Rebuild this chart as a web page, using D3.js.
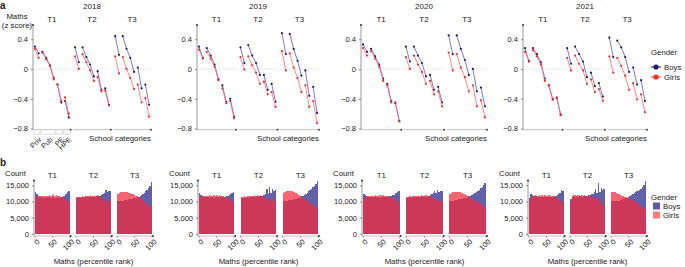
<!DOCTYPE html>
<html>
<head>
<meta charset="utf-8">
<script src="https://cdn.jsdelivr.net/npm/d3@7"></script>
<style>
  body { margin: 0; background: #fff; }
  text { font-family: "Liberation Sans", Arial, Helvetica, sans-serif; fill: #222; }
</style>
</head>
<body>
<svg id="chart" width="685" height="267"></svg>
<script>
// ---------- data ----------
const years = ['2018', '2019', '2020', '2021'];
const terms = ['T1', 'T2', 'T3'];
const schoolCats = ['Priv', 'Pub', 'PE', 'HPE'];
const catPositions = [[0, 1], [2, 3, 4, 5], [6, 7], [8, 9]];
const yTicksA = [0.4, 0, -0.4, -0.8];
const yTicksB = [0, 5000, 10000, 15000];
const xTicksB = [0, 50, 100];

// maths z score, [term][school category][level]
const boysZ2018 = [
  [[0.30, 0.21], [0.23, 0.15, 0.05, -0.12], [-0.21, -0.45], [-0.43, -0.65]],
  [[0.29, 0.09], [0.29, 0.16, 0.06, -0.10], [-0.03, -0.28], [-0.26, -0.48]],
  [[0.44, 0.19], [0.44, 0.27, 0.15, -0.04], [0.02, -0.26], [-0.21, -0.48]]
];
const girlsZ2018 = [
  [[0.27, 0.15], [0.22, 0.13, 0.04, -0.14], [-0.21, -0.43], [-0.38, -0.60]],
  [[0.17, 0.00], [0.20, 0.09, -0.02, -0.16], [-0.11, -0.30], [-0.29, -0.49]],
  [[0.17, -0.06], [0.16, 0.00, -0.12, -0.27], [-0.21, -0.45], [-0.39, -0.64]]
];
const boysZ2019 = [
  [[0.30, 0.15], [0.28, 0.18, 0.06, -0.14], [-0.22, -0.44], [-0.40, -0.64]],
  [[0.29, 0.08], [0.32, 0.18, 0.08, -0.08], [-0.08, -0.28], [-0.20, -0.44]],
  [[0.48, 0.20], [0.47, 0.27, 0.11, -0.09], [-0.02, -0.36], [-0.24, -0.59]]
];
const girlsZ2019 = [
  [[0.26, 0.14], [0.23, 0.14, 0.03, -0.15], [-0.26, -0.46], [-0.43, -0.66]],
  [[0.16, -0.01], [0.17, 0.05, -0.05, -0.20], [-0.17, -0.34], [-0.31, -0.51]],
  [[0.24, -0.02], [0.21, 0.02, -0.12, -0.31], [-0.22, -0.51], [-0.43, -0.73]]
];
const boysZ2020 = [
  [[0.33, 0.23], [0.27, 0.17, 0.06, -0.13], [-0.20, -0.43], [-0.45, -0.70]],
  [[0.30, 0.10], [0.30, 0.18, 0.08, -0.10], [-0.08, -0.28], [-0.24, -0.45]],
  [[0.45, 0.20], [0.45, 0.27, 0.12, -0.08], [0.00, -0.30], [-0.25, -0.50]]
];
const girlsZ2020 = [
  [[0.28, 0.18], [0.24, 0.14, 0.03, -0.16], [-0.22, -0.45], [-0.46, -0.70]],
  [[0.16, 0.00], [0.18, 0.06, -0.04, -0.20], [-0.16, -0.34], [-0.30, -0.50]],
  [[0.22, -0.02], [0.20, 0.02, -0.11, -0.30], [-0.22, -0.50], [-0.42, -0.65]]
];
const boysZ2021 = [
  [[0.28, 0.10], [0.28, 0.20, 0.09, -0.13], [-0.22, -0.41], [-0.39, -0.61]],
  [[0.28, 0.07], [0.30, 0.20, 0.10, -0.11], [-0.05, -0.23], [-0.19, -0.37]],
  [[0.42, 0.16], [0.38, 0.29, 0.16, -0.04], [0.02, -0.21], [-0.15, -0.43]]
];
const girlsZ2021 = [
  [[0.23, 0.11], [0.25, 0.17, 0.06, -0.16], [-0.22, -0.40], [-0.38, -0.62]],
  [[0.15, -0.02], [0.18, 0.07, -0.02, -0.20], [-0.14, -0.31], [-0.27, -0.43]],
  [[0.17, -0.05], [0.15, 0.04, -0.09, -0.28], [-0.19, -0.41], [-0.34, -0.58]]
];

// counts (thousands) per 4-point percentile bin, [term][bin]
const boysCount2018 = [
  [12.8, 12.2, 11.6, 11.4, 11.3, 11.4, 11.2, 11.3, 11.2, 11.3, 11.4, 11.2, 11.3, 11.3, 11.2, 11.1, 11.3, 11.2, 11.4, 11.5, 11.6, 11.8, 12.2, 12.8, 13.2],
  [11.2, 11.2, 11.3, 11.2, 11.3, 11.3, 11.4, 11.3, 11.4, 11.4, 11.5, 11.5, 11.4, 11.5, 11.6, 11.7, 11.6, 11.8, 11.9, 12.2, 12.6, 13.7, 12.8, 13.3, 13.4],
  [10.0, 10.0, 10.1, 10.2, 10.3, 10.4, 10.5, 10.6, 10.7, 10.8, 10.9, 11.0, 11.1, 11.2, 11.3, 11.5, 11.7, 12.0, 12.3, 12.7, 13.1, 13.6, 14.1, 14.8, 16.0]
];
const girlsCount2018 = [
  [11.4, 11.3, 11.5, 11.6, 11.7, 11.6, 11.7, 11.8, 11.7, 11.8, 12.1, 11.8, 11.9, 12.3, 11.7, 12.0, 11.8, 11.7, 11.4, 11.5, 11.2, 11.0, 10.6, 10.3, 9.9],
  [11.3, 11.5, 11.4, 11.5, 11.6, 11.5, 11.6, 11.7, 11.6, 11.8, 11.9, 11.7, 11.8, 11.7, 11.8, 12.0, 11.6, 11.5, 11.3, 11.0, 10.6, 9.6, 11.2, 10.6, 10.3],
  [12.3, 12.6, 12.8, 12.9, 13.0, 13.0, 12.9, 12.8, 12.7, 12.6, 12.4, 12.2, 12.0, 11.8, 11.6, 11.4, 11.1, 10.8, 10.4, 10.0, 9.6, 9.2, 8.9, 8.6, 8.3]
];
const boysCount2019 = [
  [12.6, 12.0, 11.6, 11.4, 11.3, 11.3, 11.4, 11.2, 11.3, 11.4, 11.2, 11.3, 11.4, 11.3, 11.2, 11.3, 11.4, 11.3, 11.5, 11.6, 11.8, 12.0, 12.4, 12.7, 13.0],
  [11.0, 11.1, 11.2, 11.2, 11.3, 11.2, 11.4, 11.3, 11.4, 11.5, 11.4, 11.6, 11.5, 11.7, 11.6, 11.8, 12.0, 12.4, 13.8, 12.2, 14.6, 12.6, 14.0, 13.2, 13.6],
  [10.1, 10.1, 10.2, 10.3, 10.4, 10.5, 10.6, 10.7, 10.8, 10.9, 11.0, 11.2, 11.4, 11.6, 11.8, 12.1, 12.4, 12.7, 13.1, 13.5, 13.9, 14.4, 14.9, 15.5, 16.4]
];
const girlsCount2019 = [
  [11.2, 11.4, 11.6, 11.7, 11.6, 11.8, 11.7, 11.9, 11.8, 11.7, 12.0, 11.8, 11.9, 11.8, 12.1, 11.7, 11.8, 11.6, 11.5, 11.3, 11.1, 10.8, 10.5, 10.2, 9.8],
  [11.3, 11.5, 11.6, 11.5, 11.7, 11.6, 11.8, 11.7, 11.8, 11.9, 11.8, 11.7, 11.9, 11.8, 11.7, 11.6, 11.4, 11.2, 10.6, 11.0, 9.8, 10.8, 10.0, 10.4, 10.2],
  [12.6, 12.9, 13.1, 13.2, 13.3, 13.2, 13.1, 13.0, 12.8, 12.6, 12.4, 12.1, 11.8, 11.5, 11.2, 10.9, 10.6, 10.2, 9.8, 9.5, 9.1, 8.8, 8.5, 8.2, 7.9]
];
const boysCount2020 = [
  [12.4, 11.9, 11.6, 11.5, 11.4, 11.3, 11.4, 11.3, 11.3, 11.4, 11.3, 11.2, 11.4, 11.3, 11.3, 11.4, 11.3, 11.4, 11.6, 11.7, 11.9, 12.1, 12.5, 12.9, 13.4],
  [11.2, 11.2, 11.3, 11.3, 11.4, 11.3, 11.4, 11.4, 11.5, 11.5, 11.4, 11.6, 11.6, 11.5, 11.7, 11.8, 11.9, 12.2, 12.6, 13.2, 12.5, 13.6, 12.8, 13.4, 13.2],
  [10.2, 10.3, 10.3, 10.4, 10.5, 10.6, 10.7, 10.8, 10.9, 11.0, 11.1, 11.2, 11.4, 11.6, 11.8, 12.0, 12.3, 12.6, 12.9, 13.3, 13.7, 14.1, 14.5, 15.0, 15.6]
];
const girlsCount2020 = [
  [11.1, 11.3, 11.5, 11.6, 11.7, 11.6, 11.8, 11.7, 11.9, 11.8, 11.7, 12.0, 11.8, 11.9, 11.7, 11.8, 11.7, 11.6, 11.4, 11.2, 11.0, 10.7, 10.4, 10.0, 9.6],
  [11.4, 11.5, 11.6, 11.5, 11.7, 11.7, 11.6, 11.8, 11.7, 11.8, 11.9, 11.7, 11.8, 11.9, 11.7, 11.6, 11.5, 11.3, 11.0, 10.4, 10.9, 9.8, 10.6, 10.0, 10.2],
  [12.4, 12.7, 12.9, 13.0, 13.0, 13.0, 12.9, 12.8, 12.6, 12.4, 12.2, 12.0, 11.8, 11.5, 11.2, 10.9, 10.6, 10.3, 10.0, 9.7, 9.4, 9.1, 8.8, 8.5, 8.2]
];
const boysCount2021 = [
  [11.0, 12.2, 12.0, 11.8, 11.6, 11.6, 11.5, 11.4, 11.5, 11.3, 11.4, 11.4, 11.3, 11.5, 11.4, 11.3, 11.4, 11.5, 11.6, 11.7, 11.9, 12.2, 12.6, 13.6, 13.4],
  [10.9, 11.4, 11.6, 11.5, 11.6, 11.5, 11.7, 11.6, 11.5, 11.7, 11.6, 11.7, 11.8, 11.9, 12.0, 12.4, 12.2, 13.0, 13.8, 12.6, 15.6, 13.0, 14.2, 13.6, 13.8],
  [10.0, 10.0, 10.1, 10.1, 10.2, 10.3, 10.4, 10.5, 10.7, 10.9, 11.0, 11.2, 11.4, 11.6, 11.9, 12.2, 12.5, 12.8, 13.1, 13.4, 13.7, 14.0, 14.4, 15.0, 16.3]
];
const girlsCount2021 = [
  [10.0, 11.2, 11.6, 11.8, 11.9, 11.8, 11.7, 11.9, 11.8, 11.9, 11.8, 12.0, 11.7, 11.8, 11.9, 11.8, 11.6, 11.7, 11.5, 11.3, 11.1, 10.9, 10.5, 9.8, 9.6],
  [10.0, 11.6, 11.9, 12.0, 11.8, 12.0, 11.9, 11.7, 12.0, 11.8, 11.9, 11.7, 11.8, 11.6, 11.7, 11.5, 11.3, 11.0, 10.4, 11.2, 9.4, 10.8, 9.6, 9.0, 8.8],
  [12.8, 12.9, 12.8, 12.6, 12.4, 12.2, 12.0, 11.8, 11.6, 11.4, 11.3, 11.2, 11.1, 10.9, 10.7, 10.4, 10.1, 9.8, 9.5, 9.2, 8.9, 8.6, 8.3, 8.0, 7.6]
];

const boysZ = [boysZ2018, boysZ2019, boysZ2020, boysZ2021];
const girlsZ = [girlsZ2018, girlsZ2019, girlsZ2020, girlsZ2021];
const boysCount = [boysCount2018, boysCount2019, boysCount2020, boysCount2021];
const girlsCount = [girlsCount2018, girlsCount2019, girlsCount2020, girlsCount2021];

// ---------- layout ----------
const svg = d3.select('#chart');
const panelLeftA = [33, 197, 361, 523];
const panelRightA = [151, 319, 487, 647];
const panelLeftB = [34, 198, 362, 528];
const panelRightB = [153, 319, 487, 647];
const gapA = 2.5, gapB = 4.5;

const boysLine = '#5a5ab4', boysPoint = '#1b1b6e';
const girlsLine = '#ff6a6a', girlsPoint = '#f02c2c';
const boysFill = '#4b4b9e', girlsFill = '#f5283c';

const fmtMinus = s => s.replace('-', '\u2212');

const yA = d3.scaleLinear().domain([-0.815, 0.59]).range([129.7, 25]);
const yB = d3.scaleLinear().domain([-700, 16500]).range([236, 180.5]);

svg.append('text').attr('x', 0).attr('y', 8.5).attr('font-size', '10px')
  .attr('font-weight', 'bold').text('a');
svg.append('text').attr('x', 0).attr('y', 166).attr('font-size', '10px')
  .attr('font-weight', 'bold').text('b');

// y-axis title panel a
svg.append('text').attr('x', 17).attr('y', 18.5).attr('text-anchor', 'middle')
  .attr('font-size', '7.8px').text('Maths');
svg.append('text').attr('x', 17).attr('y', 28).attr('text-anchor', 'middle')
  .attr('font-size', '7.8px').text('(z score)');

years.forEach((yr, yi) => {
  // ===== panel a =====
  const L = panelLeftA[yi], R = panelRightA[yi];
  const fw = (R - L - 2 * gapA) / 3;
  const g = svg.append('g');

  g.append('text').attr('x', (L + R) / 2).attr('y', 9).attr('text-anchor', 'middle')
    .attr('font-size', '8px').text(yr);

  // y axis
  const yAxis = g.append('g').attr('transform', `translate(${L},0)`)
    .call(d3.axisLeft(yA).tickValues(yTicksA).tickSize(2)
      .tickFormat(d => d === 0 ? '0' : fmtMinus(d3.format('.1f')(d))));
  yAxis.select('.domain').remove();
  yAxis.selectAll('line').attr('stroke', '#444').attr('stroke-width', 0.6);
  yAxis.selectAll('text').attr('font-size', '7.5px').attr('fill', '#222')
    .attr('font-family', '"Liberation Sans", Arial, sans-serif');
  g.append('line').attr('x1', L).attr('x2', L).attr('y1', 25).attr('y2', 129.7)
    .attr('stroke', '#555').attr('stroke-width', 0.6);
  g.append('circle').attr('cx', L).attr('cy', 25).attr('r', 0.9).attr('fill', '#222');

  terms.forEach((t, ti) => {
    const x0 = L + ti * (fw + gapA), x1 = x0 + fw;
    const x = d3.scalePoint().domain(d3.range(10)).range([x0, x1]).padding(0.5);

    g.append('text').attr('x', (x0 + x1) / 2).attr('y', 22).attr('text-anchor', 'middle')
      .attr('font-size', '8px').text(t);

    g.append('line').attr('x1', x0).attr('x2', x1).attr('y1', yA(0)).attr('y2', yA(0))
      .attr('stroke', '#e6e6e6').attr('stroke-width', 0.8);
    g.append('line').attr('x1', x0).attr('x2', x1).attr('y1', 129.7).attr('y2', 129.7)
      .attr('stroke', '#9a9a9a').attr('stroke-width', 0.6);
    g.append('circle').attr('cx', x1).attr('cy', 129.7).attr('r', 0.9).attr('fill', '#222');

    const line = d3.line().x(d => x(d[0])).y(d => yA(d[1]));
    [[boysZ[yi][ti], boysLine, boysPoint], [girlsZ[yi][ti], girlsLine, girlsPoint]]
      .forEach(([series, lc, pc]) => {
        series.forEach((vals, ci) => {
          const pts = vals.map((v, k) => [catPositions[ci][k], v]);
          g.append('path').attr('d', line(pts)).attr('fill', 'none')
            .attr('stroke', lc).attr('stroke-width', 0.8);
          g.selectAll(null).data(pts).enter().append('circle')
            .attr('cx', d => x(d[0])).attr('cy', d => yA(d[1])).attr('r', 1.1)
            .attr('fill', pc);
        });
      });

    // school category brackets, first panel first term only
    if (yi === 0 && ti === 0) {
      catPositions.forEach((pos, ci) => {
        const s = x.step();
        const a0 = x(pos[0]) - s / 2 + 0.6, a1 = x(pos[pos.length - 1]) + s / 2 - 0.6;
        g.append('path').attr('d', `M${a0},130.5V134.2H${a1}V130.5`).attr('fill', 'none')
          .attr('stroke', '#cfcfcf').attr('stroke-width', 0.7);
        const cx = (a0 + a1) / 2;
        g.append('text').attr('transform', `translate(${cx + 2},137) rotate(-45)`)
          .attr('text-anchor', 'end').attr('dy', '0.6em')
          .attr('font-size', '7.2px').text(schoolCats[ci]);
      });
    }
  });

  g.append('text').attr('x', R).attr('y', 141).attr('text-anchor', 'end')
    .attr('font-size', '7.8px').text('School categories');

  // ===== panel b =====
  const LB = panelLeftB[yi], RB = panelRightB[yi];
  const fwB = (RB - LB - 2 * gapB) / 3;
  const gb = svg.append('g');

  gb.append('text').attr('x', LB - 29).attr('y', 176).attr('font-size', '7.8px').text('Count');

  const yAxisB = gb.append('g').attr('transform', `translate(${LB},0)`)
    .call(d3.axisLeft(yB).tickValues(yTicksB).tickSize(2).tickFormat(d3.format(',')));
  yAxisB.select('.domain').remove();
  yAxisB.selectAll('line').attr('stroke', '#444').attr('stroke-width', 0.6);
  yAxisB.selectAll('text').attr('font-size', '7.5px').attr('fill', '#222')
    .attr('font-family', '"Liberation Sans", Arial, sans-serif');
  gb.append('line').attr('x1', LB).attr('x2', LB).attr('y1', 180.5).attr('y2', 236)
    .attr('stroke', '#555').attr('stroke-width', 0.6);
  gb.append('circle').attr('cx', LB).attr('cy', 180.5).attr('r', 0.9).attr('fill', '#222');

  terms.forEach((t, ti) => {
    const x0 = LB + ti * (fwB + gapB), x1 = x0 + fwB;
    const x = d3.scaleLinear().domain([-3, 103]).range([x0, x1]);
    const binW = 100 / boysCount[yi][ti].length;

    gb.append('text').attr('x', (x0 + x1) / 2).attr('y', 178).attr('text-anchor', 'middle')
      .attr('font-size', '8px').text(t);

    [[boysCount[yi][ti], boysFill, 0.88], [girlsCount[yi][ti], girlsFill, 0.72]]
      .forEach(([vals, fill, op]) => {
        const grp = gb.append('g').attr('fill', fill).attr('fill-opacity', op);
        grp.selectAll('rect').data(vals).enter().append('rect')
          .attr('x', (d, i) => x(i * binW))
          .attr('width', x(binW) - x(0))
          .attr('y', d => yB(d * 1000))
          .attr('height', d => yB(0) - yB(d * 1000))
          .attr('shape-rendering', 'crispEdges');
      });

    gb.append('line').attr('x1', x0).attr('x2', x1).attr('y1', 236).attr('y2', 236)
      .attr('stroke', '#9a9a9a').attr('stroke-width', 0.6);
    gb.append('circle').attr('cx', x1).attr('cy', 236).attr('r', 0.9).attr('fill', '#222');

    xTicksB.forEach(v => {
      gb.append('line').attr('x1', x(v)).attr('x2', x(v)).attr('y1', 236).attr('y2', 238)
        .attr('stroke', '#555').attr('stroke-width', 0.5);
      gb.append('text').attr('transform', `translate(${x(v) + 2},239) rotate(-45)`)
        .attr('text-anchor', 'end').attr('dy', '0.6em').attr('font-size', '7.5px').text(v);
    });
  });

  gb.append('text').attr('x', (LB + RB) / 2).attr('y', 264).attr('text-anchor', 'middle')
    .attr('font-size', '7.8px').text('Maths (percentile rank)');
});

// ---------- legends ----------
const legA = svg.append('g').attr('transform', 'translate(651,0)');
legA.append('text').attr('x', 0).attr('y', 55).attr('font-size', '7.8px').text('Gender');
[['Boys', boysPoint, 67], ['Girls', girlsPoint, 77]].forEach(([lab, c, y]) => {
  legA.append('line').attr('x1', 0).attr('x2', 10).attr('y1', y).attr('y2', y)
    .attr('stroke', c).attr('stroke-width', 1);
  legA.append('circle').attr('cx', 5).attr('cy', y).attr('r', 2.6).attr('fill', c);
  legA.append('text').attr('x', 13).attr('y', y + 2.7).attr('font-size', '7.8px').text(lab);
});

const legB = svg.append('g').attr('transform', 'translate(651,0)');
legB.append('text').attr('x', 0).attr('y', 200).attr('font-size', '7.8px').text('Gender');
[['Boys', '#5b5ba8', 206], ['Girls', '#ff7f7f', 215]].forEach(([lab, c, y]) => {
  legB.append('rect').attr('x', 2).attr('y', y - 3.5).attr('width', 7).attr('height', 7)
    .attr('fill', c);
  legB.append('text').attr('x', 12).attr('y', y + 2.7).attr('font-size', '7.8px').text(lab);
});
</script>
</body>
</html>
